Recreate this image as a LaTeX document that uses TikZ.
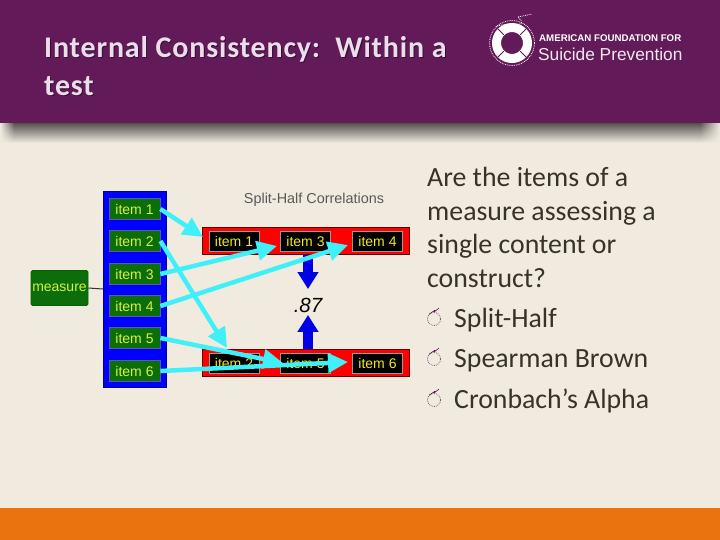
\documentclass[tikz,border=0pt]{standalone}
\usepackage{fontspec}
\setmainfont{Carlito}
\newfontfamily\arialfont{Liberation Sans}
\newfontfamily\headfont[LetterSpace=2.8]{Carlito}
\usetikzlibrary{arrows.meta,fadings}
\definecolor{paper}{HTML}{F1EBDF}
\definecolor{plum}{HTML}{621B58}
\definecolor{headtext}{HTML}{EBDDEB}
\definecolor{footer}{HTML}{E8730F}
\definecolor{itemgreen}{HTML}{0B6E0B}
\definecolor{itemtext}{HTML}{D8F040}
\definecolor{bodytext}{HTML}{3A3228}
\definecolor{splash}{HTML}{40F0F8}
\tikzset{
  itembox/.style={draw=gray!70!blue,line width=0.8pt,fill=itemgreen,text=itemtext,font=\arialfont\fontsize{14}{14}\selectfont,minimum width=51pt,minimum height=21pt,inner sep=0pt},
  halfbox/.style={draw=gray!80,line width=0.8pt,fill=black,text=yellow!90!gray,font=\arialfont\fontsize{14}{14}\selectfont,minimum width=50pt,minimum height=20pt,inner sep=0pt},
  redbar/.style={draw=black!60!red,fill=red,minimum width=207pt,minimum height=27pt,inner sep=0pt},
  toarrow/.style={-{Triangle[width=19pt,length=20pt]},splash,line width=4.5pt},
  bluearrow/.style={-{Triangle[width=20pt,length=17pt]},blue!90!black,line width=10pt},
  headline/.style={anchor=base west,inner sep=0pt,font=\headfont\bfseries\fontsize{30}{30}\selectfont},
  bodyline/.style={anchor=base west,text=bodytext,font=\fontsize{27.8}{27.8}\selectfont,inner sep=0pt},
  ringdot/.style={circle,draw=black!60,densely dotted,line width=0.8pt,minimum size=13pt,inner sep=0pt}
}
\begin{document}
\begin{tikzpicture}[x=1pt,y=-1pt]
  \useasboundingbox (0,0) rectangle (720,540);
  \fill[paper] (0,0) rectangle (720,540);
  \shade[top color=black!65!paper,bottom color=paper] (0,123) rectangle (720,143);
  \fill[paper,path fading=east] (0,123) rectangle (14,143);
  \fill[paper,path fading=west] (700,123) rectangle (720,143);
  \fill[plum] (0,0) rectangle (720,123);
  \fill[footer] (0,508) rectangle (720,540);
  % title
  \foreach \y/\t in {58/{Internal Consistency:\ \ Within a},96/test}{
    \node[headline,text=black!45!plum] at (45,\y+1) {\t};
    \node[headline,text=headtext] at (44,\y) {\t};
  }
  % logo
  \node[circle,draw=white,line width=9pt,minimum size=31pt,inner sep=0pt] (ring) at (512,43) {};
  \node[circle,draw=white,densely dotted,line width=0.8pt,minimum size=45pt,inner sep=0pt] (rope) at (ring.center) {};
  \draw[plum,line width=0.8pt] (ring.north west) -- +(6,6) (ring.north east) -- +(-6,6) (ring.south west) -- +(6,-6) (ring.south east) -- +(-6,-6);
  \draw[white,line width=0.8pt,densely dotted] (rope.north west) .. controls (512,20) and (530,30) .. (518,17) -- (532,14);
  \node[anchor=west,inner sep=0pt,text=white,font=\arialfont\bfseries\fontsize{9.7}{10}\selectfont] (found) at (539,38) {AMERICAN FOUNDATION FOR};
  \node[anchor=west,inner sep=0pt,text=white!90!plum,font=\arialfont\fontsize{17.3}{18}\selectfont] (prev) at (538,54) {Suicide Prevention};
  % left column
  \node[draw=black!40!blue,fill=blue,minimum width=63pt,minimum height=196pt,inner sep=0pt] (col) at (134.5,289) {};
  \node[itembox,rounded corners=1.5pt,minimum width=57pt,minimum height=35pt,draw=black!60!green] (measure) at (59.5,288) {measure};
  \draw[black!80,line width=1pt] (measure.east) -- (col.west);
  \foreach \n/\y in {1/209,2/241,3/274,4/306,5/338,6/371}
    \node[itembox] (l\n) at (134.5,\y) {item \n};
  % right side
  \node[anchor=center,inner sep=0pt,text=black!65,font=\arialfont\fontsize{14.4}{14}\selectfont] (title) at (314,200) {Split-Half Correlations};
  \node[redbar] (top) at (305.5,241) {};
  \node[redbar] (bot) at (305.5,362.5) {};
  \foreach \n/\x in {1/234,3/305.5,4/377.5}
    \node[halfbox] (t\n) at (\x,241) {item \n};
  \foreach \n/\x in {2/234,5/305.5,6/377.5}
    \node[halfbox] (b\n) at (\x,363) {item \n};
  \node[inner sep=0pt,font=\arialfont\itshape\fontsize{20.5}{20.5}\selectfont] (corr) at (308,305.5) {.87};
  \draw[bluearrow,shorten >=9pt] (top.south -| corr) -- (corr.north);
  \draw[bluearrow,shorten >=2pt] (bot.north -| corr) -- (corr.south);
  % arrows
  \coordinate (a1) at (203,237);
  \coordinate (a2) at (227,348);
  \coordinate (a3) at (277,246);
  \coordinate (a4) at (348,245);
  \coordinate (a5) at (283,363);
  \coordinate (a6) at (348,362);
  \foreach \n in {1,...,6}
    \draw[toarrow] (l\n.east) -- (a\n);
  % text
  \node[bodyline] at (427,187) {Are the items of a};
  \node[bodyline] at (427,220.5) {measure assessing a};
  \node[bodyline] at (427,254) {single content or};
  \node[bodyline] at (427,287.5) {construct?};
  \foreach \y/\t in {327/Split-Half,367/Spearman Brown,408/Cronbach’s Alpha}{
    \node[bodyline] at (454,\y) {\t};
    \node[ringdot] (dot) at (434,\y-8) {};
    \draw[violet!60!black,line width=0.6pt] (dot.north) -- +(5,-4) (dot.north west) -- +(6,-4);
  }
\end{tikzpicture}
\end{document}
